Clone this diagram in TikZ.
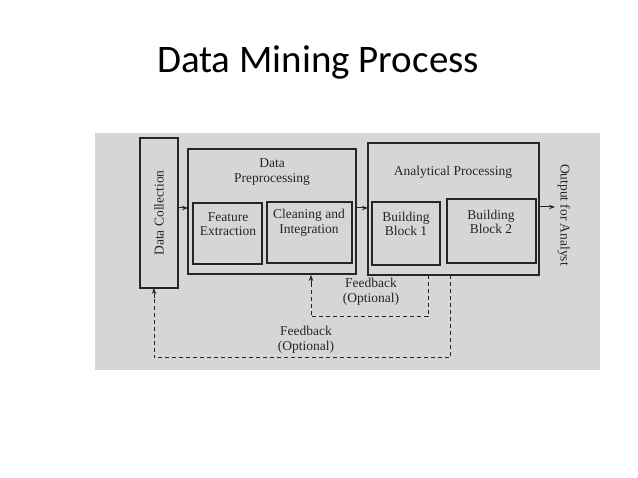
\documentclass[tikz,border=0pt]{standalone}
\usepackage{fontspec}
\setmainfont{Liberation Serif}
\newfontfamily\titlefont{Carlito}
\usetikzlibrary{arrows.meta}
\begin{document}
\begin{tikzpicture}[x=1pt,y=-1pt,
  box/.style={draw=black!85,line width=1.1pt},
  lbl/.style={font=\fontsize{13.5}{14.5}\selectfont,align=center,text=black!85},
  arr/.style={-{Stealth[length=6pt]},line width=1pt,draw=black!85},
  fb/.style={line width=1pt,draw=black!85,dash pattern=on 4pt off 3pt}]
\useasboundingbox (0,0) rectangle (638,478);
\fill[white] (0,0) rectangle (638,478);
\fill[gray!32] (95,133) rectangle (600,370);
\node[font=\titlefont\fontsize{39}{42}\selectfont] (title) at (318,62) {Data Mining Process};
\draw[box] (140,138) rectangle (178,288);
\node[lbl,rotate=90] (dc) at (159,213) {Data Collection};
\draw[box] (188,149) rectangle (356,274);
\node[lbl] (dp) at (272,172) {Data\\Preprocessing};
\draw[box] (193,203) rectangle (262,264);
\node[lbl] (fe) at (228,224) {Feature\\Extraction};
\draw[box] (267,202) rectangle (352,263);
\node[lbl] (ci) at (309,223) {Cleaning and\\Integration};
\draw[box] (368,143) rectangle (539,275);
\node[lbl] (ap) at (453,172) {Analytical Processing};
\draw[box] (372,202) rectangle (440,265);
\node[lbl] (b1) at (406,224) {Building\\Block 1};
\draw[box] (447,199) rectangle (536,263);
\node[lbl] (b2) at (491,222) {Building\\Block 2};
\node[lbl,rotate=-90] (out) at (564,215) {Output for Analyst};
\coordinate (a1) at (178,208); \coordinate (a2) at (188,208);
\draw[arr] (a1) -- (a2);
\coordinate (a3) at (356,208); \coordinate (a4) at (368,208);
\draw[arr] (a3) -- (a4);
\coordinate (a5) at (539,207); \coordinate (a6) at (555,207);
\draw[arr] (a5) -- (a6);
\coordinate (f1) at (428,275); \coordinate (f1e) at (311,275);
\draw[fb] (f1) -- (428,317) -- (311,317) -- (311,285);
\draw[arr] (311,285) -- (f1e);
\node[lbl] (fl1) at (371,292) {Feedback\\(Optional)};
\coordinate (f2) at (450,275); \coordinate (f2e) at (154,288);
\draw[fb] (f2) -- (450,358) -- (154,358) -- (154,298);
\draw[arr] (154,298) -- (f2e);
\node[lbl] (fl2) at (306,340) {Feedback\\(Optional)};
\end{tikzpicture}
\end{document}
